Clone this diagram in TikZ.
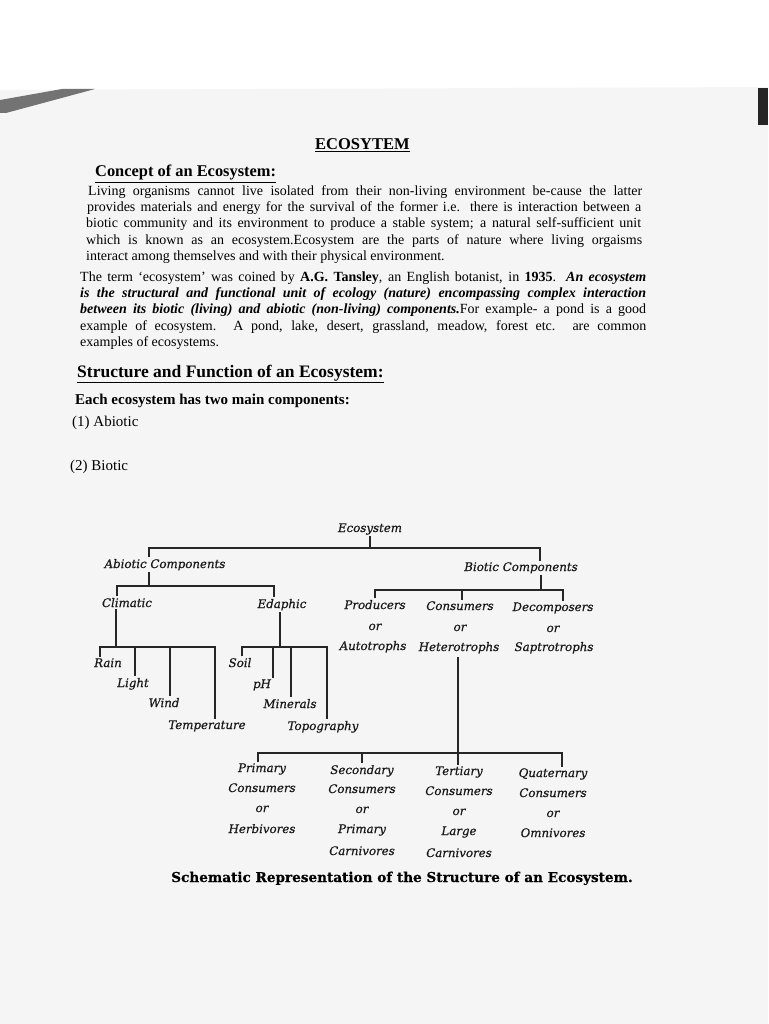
\documentclass[tikz,border=0pt]{standalone}
\usepackage{fontspec}
\setmainfont{Liberation Serif}
\newfontfamily\dgfont[FakeBold=0.6]{DejaVu Serif}
\newfontfamily\capfont[FakeBold=0.4]{DejaVu Serif}
\newcommand{\jl}[2]{\hbox to #1pt{#2}}
\begin{document}
\begin{tikzpicture}[x=1pt,y=-1pt,
  bodytxt/.style={anchor=base west, inner sep=0pt, text=black, font=\fontsize{14}{16}\selectfont},
  dg/.style={anchor=base, inner sep=1.5pt, text=black!90, font=\dgfont\itshape\fontsize{11.8}{13}\selectfont},
  ln/.style={line width=1.2pt, draw=black!85}]
\useasboundingbox (0,0) rectangle (768,1024);
\fill[white] (0,0) rectangle (768,1024);
\fill[black!4] (0,90) -- (768,87) -- (768,1024) -- (0,1024) -- cycle;
\fill[black!55] (0,100) -- (62,89) -- (95,89) -- (6,113) -- (0,113) -- cycle;
\fill[black!85] (758,88) rectangle (768,125);

% ---------- text ----------
\node[bodytxt, font=\bfseries\fontsize{16.5}{18}\selectfont] (title) at (315,150) {\underline{ECOSYTEM}};
\node[bodytxt, font=\bfseries\fontsize{16.4}{18}\selectfont] (h1) at (95,177) {\underline{Concept of an Ecosystem:}};

\node[bodytxt] (p11) at (88,196) {\jl{554}{Living organisms cannot live isolated from their non-living environment be-cause the latter}};
\node[bodytxt] (p12) at (87,212) {\jl{554}{provides materials and energy for the survival of the former i.e. there is interaction between a}};
\node[bodytxt] (p13) at (86,228) {\jl{555}{biotic community and its environment to produce a stable system; a natural self-sufficient unit}};
\node[bodytxt] (p14) at (86,244) {\jl{556}{which is known as an ecosystem.Ecosystem are the parts of nature where living orgaisms}};
\node[bodytxt] (p15) at (86,260) {interact among themselves and with their physical environment.};

\node[bodytxt] (p21) at (80,281) {\jl{566}{The term ‘ecosystem’ was coined by \textbf{A.G. Tansley}, an English botanist, in \textbf{1935}. \textbf{\textit{An ecosystem}}}};
\node[bodytxt] (p22) at (80,297) {\jl{566}{\textbf{\textit{is the structural and functional unit of ecology (nature) encompassing complex interaction}}}};
\node[bodytxt] (p23) at (80,313) {\jl{566}{\textbf{\textit{between its biotic (living) and abiotic (non-living) components.}}For example- a pond is a good}};
\node[bodytxt] (p24) at (80,330) {\jl{566}{example of ecosystem. A pond, lake, desert, grassland, meadow, forest etc. are common}};
\node[bodytxt] (p25) at (80,346) {examples of ecosystems.};

\node[bodytxt, font=\bfseries\fontsize{17.5}{20}\selectfont] (h2) at (77,377) {\underline{Structure and Function of an Ecosystem:}};
\node[bodytxt, font=\bfseries\fontsize{15}{17}\selectfont] (each) at (75,404) {Each ecosystem has two main components:};
\node[bodytxt, font=\fontsize{15}{17}\selectfont] (ab) at (72,426) {(1) Abiotic};
\node[bodytxt, font=\fontsize{15}{17}\selectfont] (bi) at (70,470) {(2) Biotic};

% ---------- diagram ----------
\node[dg] (eco) at (370,532) {Ecosystem};
\node[dg] (abio) at (165,568) {Abiotic Components};
\node[dg] (bio) at (521,571) {Biotic Components};
\node[dg] (clim) at (127,607) {Climatic};
\node[dg] (edap) at (282,608) {Edaphic};

\node[dg] (prod) at (375,609) {Producers};
\node[dg] (prodor) at (375,630) {or};
\node[dg] (auto) at (373,650) {Autotrophs};
\node[dg] (cons) at (460,610) {Consumers};
\node[dg] (consor) at (460,631) {or};
\node[dg] (het) at (459,651) {Heterotrophs};
\node[dg] (dec) at (553,611) {Decomposers};
\node[dg] (decor) at (553,632) {or};
\node[dg] (sap) at (554,651) {Saptrotrophs};

\node[dg] (rain) at (108,667) {Rain};
\node[dg] (light) at (133,687) {Light};
\node[dg] (wind) at (164,707) {Wind};
\node[dg] (temp) at (207,729) {Temperature};
\node[dg] (soil) at (240,667) {Soil};
\node[dg] (ph) at (262,688) {pH};
\node[dg] (min) at (290,708) {Minerals};
\node[dg] (topo) at (323,730) {Topography};

\node[dg] (pa) at (262,772) {Primary};
\node[dg] (pb) at (262,792) {Consumers};
\node[dg] (pc) at (262,812) {or};
\node[dg] (pd) at (262,833) {Herbivores};
\node[dg] (sa) at (362,774) {Secondary};
\node[dg] (sb) at (362,793) {Consumers};
\node[dg] (sc) at (362,813) {or};
\node[dg] (sd) at (362,833) {Primary};
\node[dg] (se) at (362,855) {Carnivores};
\node[dg] (ta) at (459,775) {Tertiary};
\node[dg] (tb) at (459,795) {Consumers};
\node[dg] (tc) at (459,815) {or};
\node[dg] (td) at (459,835) {Large};
\node[dg] (te) at (459,857) {Carnivores};
\node[dg] (qa) at (553,777) {Quaternary};
\node[dg] (qb) at (553,797) {Consumers};
\node[dg] (qc) at (553,817) {or};
\node[dg] (qd) at (553,837) {Omnivores};

\node[anchor=base, inner sep=0pt, text=black, font=\capfont\bfseries\fontsize{13.6}{15}\selectfont] (cap) at (402,882) {Schematic Representation of the Structure of an Ecosystem.};

% bracket coordinates
\coordinate (e0) at (370,548);
\coordinate (eA) at (149,548);
\coordinate (eB) at (540,548);
\draw[ln] (eco.south) -- (e0);
\draw[ln] (abio.north -| eA) -- (eA) -- (eB) -- (bio.north -| eB);

\coordinate (a0) at (149,586);
\coordinate (aC) at (117,586);
\coordinate (aE) at (274,586);
\draw[ln] (abio.south -| a0) -- (a0);
\draw[ln] (clim.north -| aC) -- (aC) -- (aE) -- (edap.north -| aE);

\coordinate (b0) at (541,590);
\coordinate (bP) at (375,590);
\coordinate (bC) at (462,590);
\coordinate (bD) at (563,590);
\draw[ln] (bio.south -| b0) -- (b0);
\draw[ln] (prod.north -| bP) -- (bP) -- (bD) -- (dec.north -| bD);
\draw[ln] (bC) -- (cons.north -| bC);

\coordinate (cC) at (116,647);
\coordinate (cR) at (100,647);
\coordinate (cL) at (135,647);
\coordinate (cW) at (170,647);
\coordinate (cT) at (215,647);
\draw[ln] (clim.south -| cC) -- (cC);
\draw[ln] (rain.north -| cR) -- (cR) -- (cT) -- (temp.north -| cT);
\draw[ln] (cL) -- (light.north -| cL);
\draw[ln] (cW) -- (wind.north -| cW);

\coordinate (dE) at (280,647);
\coordinate (dS) at (242,647);
\coordinate (dP) at (273,647);
\coordinate (dM) at (291,647);
\coordinate (dT) at (327,647);
\draw[ln] (edap.south -| dE) -- (dE);
\draw[ln] (soil.north -| dS) -- (dS) -- (dT) -- (topo.north -| dT);
\draw[ln] (dP) -- (ph.north -| dP);
\draw[ln] (dM) -- (min.north -| dM);

\coordinate (hH) at (458,753);
\coordinate (h1c) at (258,753);
\coordinate (h2c) at (362,753);
\coordinate (h4c) at (562,753);
\draw[ln] ([yshift=-2pt]het.south -| hH) -- (ta.north -| hH);
\draw[ln] (pa.north -| h1c) -- (h1c) -- (h4c) -- (qa.north -| h4c);
\draw[ln] (h2c) -- (sa.north -| h2c);
\end{tikzpicture}
\end{document}
